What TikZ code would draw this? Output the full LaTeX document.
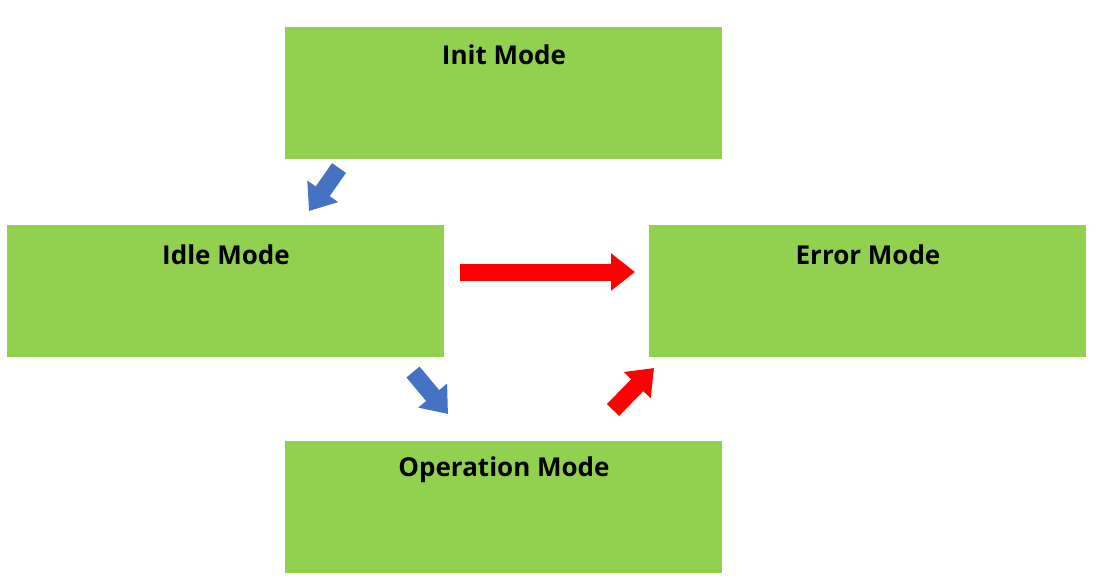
\documentclass[tikz,border=0pt]{standalone}
\usepackage{fontspec}
\setmainfont{Open Sans}
\usetikzlibrary{arrows.meta}
\definecolor{modegreen}{HTML}{92D050}
\definecolor{stepblue}{HTML}{4472C4}
\begin{document}
\begin{tikzpicture}[x=1pt,y=-1pt,
        mode/.style={draw=none,fill=modegreen,minimum width=437pt,minimum height=132pt,
                     inner sep=0pt,anchor=north west},
        title/.style={font=\fontsize{26}{30}\selectfont\bfseries,anchor=center},
        fat/.style={line width=17pt,-{Triangle[width=36pt,length=24pt]}}]
    \useasboundingbox (0,0) rectangle (1101,582);

    \node[mode] (init) at (285,27) {};
    \node[mode] (idle) at (7,225) {};
    \node[mode] (error) at (649,225) {};
    \node[mode] (oper) at (285,441) {};

    \node[title] at (504,55) {Init Mode};
    \node[title] at (226,255) {Idle Mode};
    \node[title] at (868,255) {Error Mode};
    \node[title] at (504,470) {Operation Mode};

    \coordinate (a1) at (339,168);
    \coordinate (a2) at (309,211);
    \coordinate (b1) at (413,372);
    \coordinate (b2) at (448,414);
    \coordinate (c1) at (460,272);
    \coordinate (c2) at (635,272);
    \coordinate (d1) at (613,410);
    \coordinate (d2) at (654,368);

    \draw[fat,stepblue] (a1) -- (a2);
    \draw[fat,stepblue] (b1) -- (b2);
    \draw[fat,red] (c1) -- (c2);
    \draw[fat,red] (d1) -- (d2);
\end{tikzpicture}
\end{document}
